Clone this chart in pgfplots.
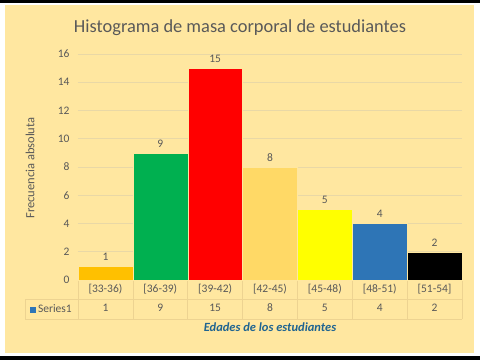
\documentclass[border=0pt]{standalone}
\usepackage{pgfplots}
\pgfplotsset{compat=1.18}
\usepackage{fontspec}
\setmainfont{Carlito}
\definecolor{bgc}{HTML}{FFE7A0}
\definecolor{gridc}{HTML}{E9D8A6}
\definecolor{tabc}{HTML}{EDD391}
\definecolor{txtc}{HTML}{595959}
\definecolor{xlab}{HTML}{1F6491}
\definecolor{cA}{HTML}{FFC000}
\definecolor{cB}{HTML}{00B050}
\definecolor{cC}{HTML}{FF0000}
\definecolor{cD}{HTML}{FFD966}
\definecolor{cE}{HTML}{FFFF00}
\definecolor{cF}{HTML}{2E75B6}
\definecolor{cG}{HTML}{000000}
\begin{document}
\begin{tikzpicture}[x=1pt,y=1pt]
\fill[white] (0,0) rectangle (480,360);
\fill[black] (0,357) rectangle (480,360);
\fill[black] (0,0) rectangle (480,4);
\fill[bgc] (5,7) rectangle (474,355);
\node[text=txtc, font=\fontsize{18.4}{21}\selectfont] at (240,332) {Histograma de masa corporal de estudiantes};
\node[text=txtc, font=\fontsize{12.5}{14}\selectfont, rotate=90] at (30,192) {Frecuencia absoluta};
\node[text=xlab, font=\fontsize{12.5}{14}\selectfont\bfseries\itshape] at (270,33) {Edades de los estudiantes};
% data table grid
\begin{scope}[draw=tabc, line width=0.6pt]
\draw (25,61) -- (462,61);
\draw (25,41) -- (462,41);
\draw (25,41) -- (25,61);
\foreach \xx in {78,132.86,187.71,242.57,297.43,352.29,407.14,462} {\draw (\xx,41) -- (\xx,80);}
\end{scope}
\fill[cF] (30,47.5) rectangle (35.5,53);
\node[text=txtc, font=\fontsize{11.5}{13}\selectfont, anchor=west] at (34.5,51) {Series1};
\begin{axis}[at={(78pt,80pt)}, anchor=south west, scale only axis,
  width=384pt, height=226pt,
  xmin=-0.5, xmax=6.5, ymin=0, ymax=16,
  ytick={0,2,...,16}, xtick={0,...,6},
  xticklabels={{[33-36)\\[5.5pt]1},{[36-39)\\[5.5pt]9},{[39-42)\\[5.5pt]15},{[42-45)\\[5.5pt]8},{[45-48)\\[5.5pt]5},{[48-51)\\[5.5pt]4},{[51-54]\\[5.5pt]2}},
  xticklabel style={align=center, font=\fontsize{11.5}{13.5}\selectfont, text=txtc, yshift=-0.5pt},
  yticklabel style={font=\fontsize{11.5}{13}\selectfont, text=txtc, xshift=-5pt},
  /pgf/number format/assume math mode=true,
  axis line style={draw=none}, major tick length=0pt,
  ymajorgrids, grid style={draw=gridc, line width=0.6pt},
  ybar, bar width=54.86pt, bar shift=0pt,
  nodes near coords,
  every node near coord/.append style={font=\fontsize{11.5}{13}\selectfont, text=txtc, yshift=2pt},
  clip=false]
\addplot[fill=cA, draw=bgc, line width=0.4pt] coordinates {(0,1)};
\addplot[fill=cB, draw=bgc, line width=0.4pt] coordinates {(1,9)};
\addplot[fill=cC, draw=bgc, line width=0.4pt] coordinates {(2,15)};
\addplot[fill=cD, draw=bgc, line width=0.4pt] coordinates {(3,8)};
\addplot[fill=cE, draw=bgc, line width=0.4pt] coordinates {(4,5)};
\addplot[fill=cF, draw=bgc, line width=0.4pt] coordinates {(5,4)};
\addplot[fill=cG, draw=bgc, line width=0.4pt] coordinates {(6,2)};
\end{axis}
\end{tikzpicture}
\end{document}
